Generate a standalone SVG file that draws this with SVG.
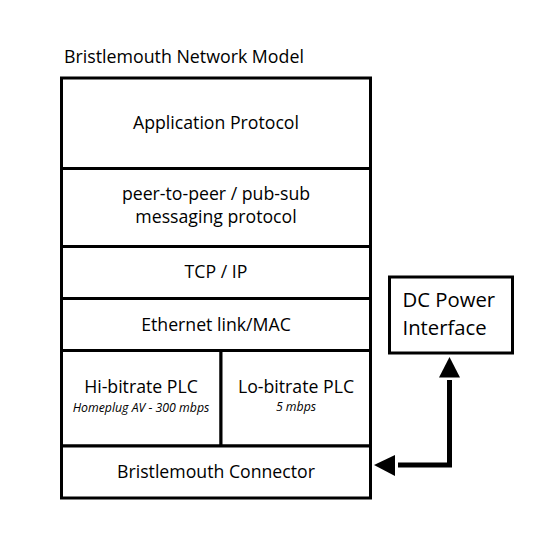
<svg xmlns="http://www.w3.org/2000/svg" width="555" height="555" viewBox="0 0 555 555">
<style>
text{font-family:"Open Sans","Noto Sans",sans-serif;fill:#000}
.l{font-size:17.7px;text-anchor:middle}
.s{font-size:12.3px;font-style:italic;text-anchor:middle}
.box{fill:#fff;stroke:#000;stroke-width:3}
.c{fill:none;stroke:#000;stroke-width:5}
</style>
<rect width="555" height="555" fill="#fff"/>
<text x="64" y="63" style="font-size:17.8px">Bristlemouth Network Model</text>
<g id="app"><rect class="box" x="61.5" y="78" width="309" height="90.5"/><text class="l" x="216" y="129">Application Protocol</text></g>
<g id="msg"><rect class="box" x="61.5" y="168.5" width="309" height="78"/><text class="l" x="216" y="200">peer-to-peer / pub-sub</text><text class="l" x="216" y="223">messaging protocol</text></g>
<g id="tcp"><rect class="box" x="61.5" y="246.5" width="309" height="52"/><text class="l" x="216" y="278">TCP / IP</text></g>
<g id="eth"><rect class="box" x="61.5" y="298.5" width="309" height="52"/><text class="l" x="216" y="331">Ethernet link/MAC</text></g>
<g id="hi"><rect class="box" x="61.5" y="350.5" width="159.5" height="95.5"/><text class="l" x="141" y="393">Hi-bitrate PLC</text><text class="s" x="141" y="412">Homeplug AV - 300 mbps</text></g>
<g id="lo"><rect class="box" x="221" y="350.5" width="149.5" height="95.5"/><text class="l" x="296" y="393">Lo-bitrate PLC</text><text class="s" x="296" y="411">5 mbps</text></g>
<g id="conn"><rect class="box" x="61.5" y="446" width="309" height="52"/><text class="l" x="216" y="478">Bristlemouth Connector</text></g>
<g id="dc"><rect class="box" x="389.5" y="277" width="123" height="76"/><text x="402.5" y="307" style="font-size:20.3px">DC Power</text><text x="402.5" y="335" style="font-size:20.3px">Interface</text></g>
<g id="connectors">
<path class="c" d="M449.5,380 L449.5,465 L398,465"/>
<path d="M449.5,357 L439,377.5 L460,377.5 Z"/>
<path d="M374,465 L395,455 L395,476 Z"/>
</g>
</svg>
